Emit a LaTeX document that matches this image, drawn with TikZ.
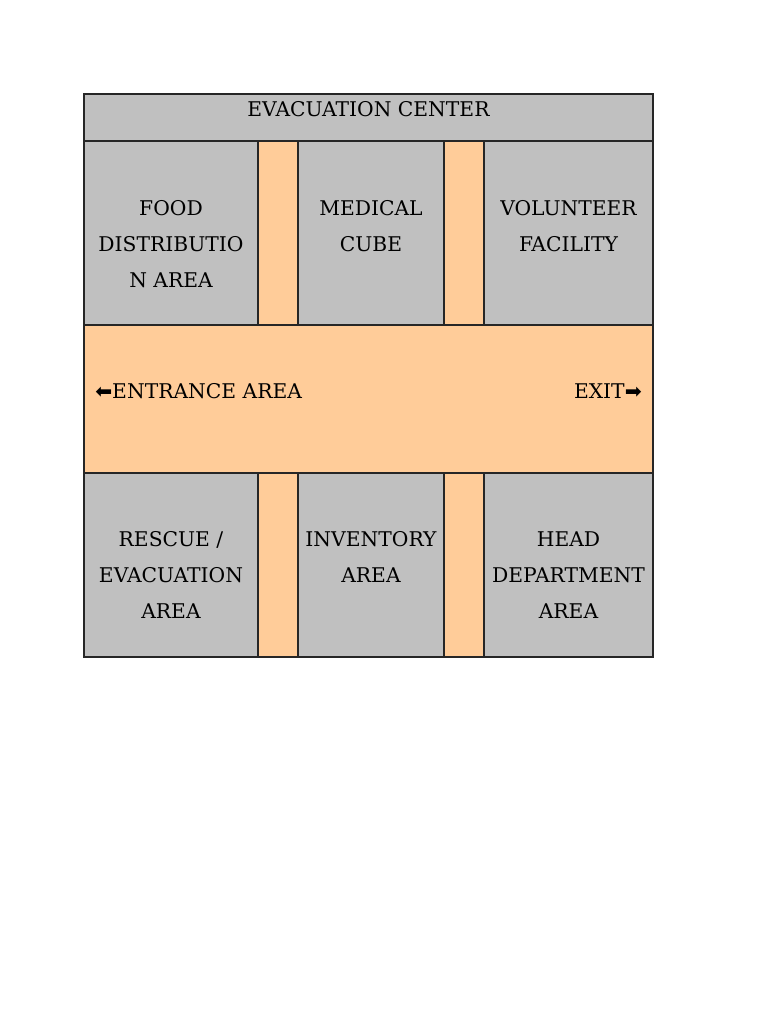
\documentclass[tikz,border=0pt]{standalone}
\usepackage{fontspec}
\setmainfont{DejaVu Serif}
\newfontfamily\arrowfont{DejaVu Sans}
\begin{document}
\begin{tikzpicture}[x=0.75pt,y=-0.75pt]
\definecolor{corr}{HTML}{FFCC99}
\definecolor{cgray}{HTML}{C0C0C0}
\tikzset{
  grid/.style={draw=black!85,line width=0.8pt},
  graycell/.style={grid,fill=cgray},
  orangecell/.style={grid,fill=corr},
  lbl/.style={anchor=base,align=center,inner sep=0pt,font=\fontsize{15.2}{27}\selectfont,text=black}}
\useasboundingbox (0,0) rectangle (768,1024);
% header
\draw[graycell] (84,94) rectangle (653,141);
% top row
\draw[graycell] (84,141) rectangle (258,325);
\draw[orangecell] (258,141) rectangle (298,325);
\draw[graycell] (298,141) rectangle (444,325);
\draw[orangecell] (444,141) rectangle (484,325);
\draw[graycell] (484,141) rectangle (653,325);
% middle
\draw[orangecell] (84,325) rectangle (653,473);
% bottom row
\draw[graycell] (84,473) rectangle (258,657);
\draw[orangecell] (258,473) rectangle (298,657);
\draw[graycell] (298,473) rectangle (444,657);
\draw[orangecell] (444,473) rectangle (484,657);
\draw[graycell] (484,473) rectangle (653,657);
% labels (base anchor = baseline of last line)
\node[lbl] (hdr) at (368.5,116) {EVACUATION CENTER};
\node[lbl] (food) at (171,287) {FOOD\\DISTRIBUTIO\\N AREA};
\node[lbl] (med) at (371,251) {MEDICAL\\CUBE};
\node[lbl] (vol) at (568.5,251) {VOLUNTEER\\FACILITY};
\node[lbl,anchor=base west] (ent) at (95,398) {{\arrowfont ⬅}ENTRANCE AREA};
\node[lbl,anchor=base east] (exit) at (642,398) {EXIT{\arrowfont ➡}};
\node[lbl] (resc) at (171,618) {RESCUE /\\EVACUATION\\AREA};
\node[lbl] (inv) at (371,582) {INVENTORY\\AREA};
\node[lbl] (head) at (568.5,618) {HEAD\\DEPARTMENT\\AREA};
\end{tikzpicture}
\end{document}
